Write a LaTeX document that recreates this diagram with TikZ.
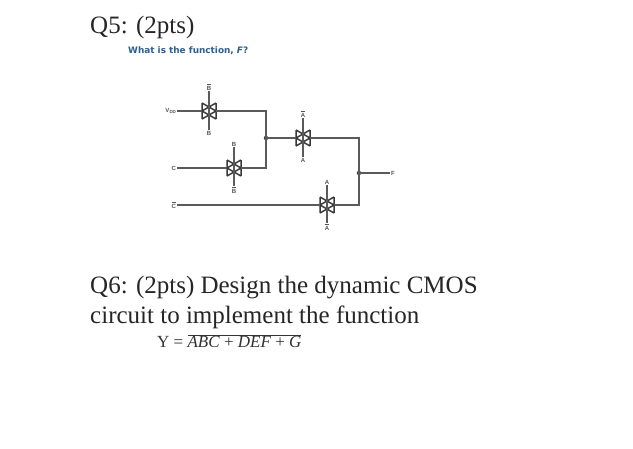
\documentclass[tikz,border=0pt]{standalone}
\usepackage{fontspec}
\setmainfont{Liberation Serif}
\newfontfamily\lblfont{Liberation Sans}
\newfontfamily\qfont{DejaVu Sans}
\definecolor{wirec}{HTML}{5A5A5A}
\definecolor{gatec}{HTML}{3A3A3A}
\definecolor{lblc}{HTML}{555555}
\definecolor{bluec}{HTML}{2F5F8F}
\newcommand{\tgate}[1]{%
  \draw[gateline] ([shift={(-7,-8)}]#1.center) -- ([shift={(-7,8)}]#1.center)
    ([shift={(7,-8)}]#1.center) -- ([shift={(7,8)}]#1.center)
    ([shift={(-7,-8)}]#1.center) -- ([shift={(7,0)}]#1.center) -- ([shift={(-7,8)}]#1.center)
    ([shift={(7,-8)}]#1.center) -- ([shift={(-7,0)}]#1.center) -- ([shift={(7,8)}]#1.center);
  \fill[gatec] ([shift={(0,-4.5)}]#1.center) circle (1.6);
  \fill[gatec] ([shift={(0,4.5)}]#1.center) circle (1.6);
}
\newcommand{\barl}[1]{$\overline{\mbox{#1}}$}
\begin{document}
\begin{tikzpicture}[x=1pt,y=-1pt,
  wire/.style={draw=wirec,line width=1.9pt},
  gateline/.style={draw=gatec,line width=1.5pt},
  gatebox/.style={minimum width=14pt,minimum height=16pt,inner sep=0pt,outer sep=0pt},
  sig/.style={font=\lblfont\bfseries\fontsize{6}{7}\selectfont,text=lblc,inner sep=0.8pt},
  joint/.style={circle,fill=gatec,inner sep=0pt,minimum size=4.5pt},
  qtext/.style={font=\fontsize{25}{29}\selectfont,text=black!85,inner sep=0pt,anchor=west}]
\useasboundingbox (0,0) rectangle (633,448);
\fill[white] (0,0) rectangle (633,448);
% headings
\node[qtext] (q5) at (90,27) {Q5: (2pts)};
\node[font=\qfont\bfseries\fontsize{8.9}{10}\selectfont,text=bluec,inner sep=0pt,anchor=west] (ask) at (128,51) {What is the function, \textit{F}?};
\node[qtext] (q6a) at (90,288) {Q6: (2pts) Design the dynamic CMOS};
\node[qtext] (q6b) at (90,317) {circuit to implement the function};
\node[font=\fontsize{17}{19}\selectfont,text=black!80,inner sep=0pt,anchor=west] (eq) at (157,341) {Y = $\overline{\mbox{\textit{ABC} + \textit{DEF} + \textit{G}}}$};
% gates
\node[gatebox] (t1) at (209,111) {};
\node[gatebox] (t2) at (234,168) {};
\node[gatebox] (t3) at (303,138) {};
\node[gatebox] (t4) at (327,205) {};
\tgate{t1}\tgate{t2}\tgate{t3}\tgate{t4}
% inputs
\node[sig,anchor=east] (vdd) at (177,111) {V\raisebox{-1pt}{\fontsize{4.5}{5}\selectfont DD}};
\node[sig,anchor=east] (c) at (177,168) {C};
\node[sig,anchor=east] (cb) at (177,205) {\barl{C}};
\node[sig,anchor=west] (f) at (390,173) {F};
% gate labels
\node[sig] (t1n) at (209,87) {\barl{B}};
\node[sig] (t1s) at (209,133) {B};
\node[sig] (t2n) at (234,144) {B};
\node[sig] (t2s) at (234,190) {\barl{B}};
\node[sig] (t3n) at (303,114) {\barl{A}};
\node[sig] (t3s) at (303,160) {A};
\node[sig] (t4n) at (327,182) {A};
\node[sig] (t4s) at (327,227) {\barl{A}};
\foreach \g in {t1,t2,t3,t4}{
  \draw[wire] (\g n) -- (\g.center);
  \draw[wire] (\g s) -- (\g.center);
}
% junctions
\coordinate (r1) at (266,138);
\coordinate (r2) at (359,173);
\node[joint] (j1) at (r1) {};
\node[joint] (j2) at (r2) {};
% wires
\draw[wire] (vdd) -- (t1.west);
\draw[wire] (c) -- (t2.west);
\draw[wire] (t1.east) -| (j1.center);
\draw[wire] (t2.east) -| (j1.center);
\draw[wire] (j1.center) -- (t3.west);
\draw[wire] (t3.east) -| (j2.center);
\draw[wire] (cb.east) -- (cb.east -| t4.west);
\draw[wire] (t4.east) -| (j2.center);
\draw[wire] (j2.center) -- (f);
\end{tikzpicture}
\end{document}
